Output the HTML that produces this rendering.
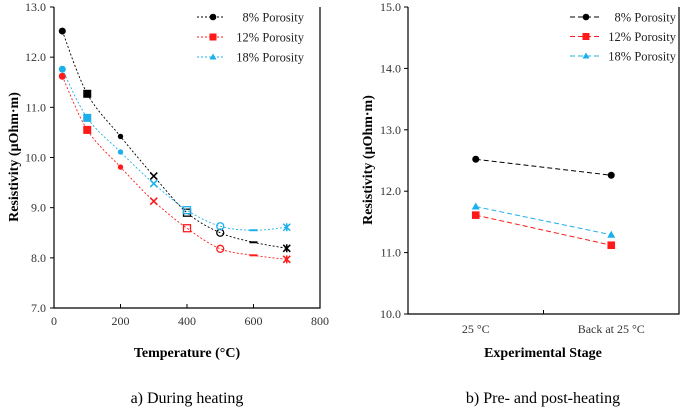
<!DOCTYPE html>
<html><head><meta charset="utf-8"><style>
html,body{margin:0;padding:0;background:#fff;}
svg{display:block;font-family:"Liberation Serif",serif;}
</style></head><body>
<svg id="c" width="685" height="409" viewBox="0 0 685 409"></svg>
<script>
const temps=[25,100,200,300,400,500,600,700];
const p8=[12.52,11.27,10.42,9.63,8.90,8.50,8.31,8.19];
const p12=[11.62,10.55,9.81,9.13,8.59,8.18,8.05,7.97];
const p18=[11.76,10.79,10.11,9.48,8.95,8.63,8.55,8.61];
const stages=["25 °C","Back at 25 °C"];
const s8=[12.52,12.26];
const s12=[11.61,11.12];
const s18=[11.75,11.29];
const xTicksL=[0,200,400,600,800];
const yTicksL=[7,8,9,10,11,12,13];
const yTicksR=[10,11,12,13,14,15];
const seriesNames=["8% Porosity","12% Porosity","18% Porosity"];

const NS="http://www.w3.org/2000/svg";
const svg=document.getElementById('c');
function el(t,a,p){const e=document.createElementNS(NS,t);for(const k in a)e.setAttribute(k,a[k]);(p||svg).appendChild(e);return e;}
function txt(s,a,p){const e=el('text',a,p);e.textContent=s;return e;}
const colors=["#000","#ff1a1a","#1cb0ea"];

// Left axes
const xL=v=>54+(v/800)*266;
const yL=v=>308-(v-7)/6*301;
const gL=el('g',{});
el('path',{d:`M54,7V308H320V7`,fill:'none',stroke:'#000','stroke-width':1.2},gL);
yTicksL.forEach(v=>{el('line',{x1:50,x2:54,y1:yL(v),y2:yL(v),stroke:'#000'},gL);
 const t=txt(v.toFixed(1),{x:46,y:yL(v)+4,'text-anchor':'end','font-size':12,fill:'#333'},gL);
 });
xTicksL.forEach(v=>{el('line',{x1:xL(v),x2:xL(v),y1:308,y2:304,stroke:'#000'},gL);
 const t=txt(String(v),{x:xL(v),y:325,'text-anchor':'middle','font-size':12,fill:'#333'},gL);
 });
function spline(pts){let d=`M${pts[0][0]},${pts[0][1]}`;for(let i=0;i<pts.length-1;i++){const p0=pts[i-1]||pts[i],p1=pts[i],p2=pts[i+1],p3=pts[i+2]||p2;
 d+=` C${p1[0]+(p2[0]-p0[0])/6},${p1[1]+(p2[1]-p0[1])/6} ${p2[0]-(p3[0]-p1[0])/6},${p2[1]-(p3[1]-p1[1])/6} ${p2[0]},${p2[1]}`;}return d;}
function marker(i,x,y,c,g){
 switch(i){
 case 0:el('circle',{cx:x,cy:y,r:3.5,fill:c},g);break;
 case 1:el('rect',{x:x-4,y:y-4,width:8,height:8,fill:c},g);break;
 case 2:el('circle',{cx:x,cy:y,r:2.7,fill:c},g);break;
 case 3:el('path',{d:`M${x-3.5},${y-3.5}L${x+3.5},${y+3.5}M${x+3.5},${y-3.5}L${x-3.5},${y+3.5}`,stroke:c,'stroke-width':1.6},g);break;
 case 4:el('rect',{x:x-3.5,y:y-3.5,width:7,height:7,fill:'none',stroke:c,'stroke-width':1.3},g);break;
 case 5:el('circle',{cx:x,cy:y,r:3.5,fill:'none',stroke:c,'stroke-width':1.3},g);break;
 case 6:el('line',{x1:x-4,x2:x+4,y1:y,y2:y,stroke:c,'stroke-width':2},g);break;
 default:el('path',{d:`M${x-3.5},${y-3.5}L${x+3.5},${y+3.5}M${x+3.5},${y-3.5}L${x-3.5},${y+3.5}M${x},${y-4}V${y+4}`,stroke:c,'stroke-width':1.5},g);}
}
[p8,p12,p18].forEach((arr,s)=>{
 const g=el('g',{},gL);
 const pts=arr.map((v,i)=>[xL(temps[i]),yL(v)]);
 el('path',{d:spline(pts),fill:'none',stroke:colors[s],'stroke-width':0.9,'stroke-dasharray':'2,2'},g);
 pts.forEach((p,i)=>marker(i,p[0],p[1],colors[s],g));
});
// left legend
seriesNames.forEach((n,i)=>{const y=17+i*20;const g=el('g',{},gL);
 el('line',{x1:197,x2:225,y1:y,y2:y,stroke:colors[i],'stroke-width':0.9,'stroke-dasharray':'2,2'},g);
 if(i==0)el('circle',{cx:213,cy:y,r:3.3,fill:colors[i]},g);else if(i==1)el('rect',{x:209.5,y:y-3.5,width:7,height:7,fill:colors[i]},g);else el('path',{d:`M213,${y-3.5}L216.5,${y+2.5}H209.5Z`,fill:colors[i]},g);
 txt(n,{x:304,y:y+4.5,'text-anchor':'end','font-size':12.5,fill:'#222'},g);});
const tx=txt("Temperature (°C)",{x:187,y:357,'text-anchor':'middle','font-size':14,'font-weight':'bold'},gL);
const ty=txt("Resistivity (µOhm·m)",{x:0,y:0,transform:'translate(18,157) rotate(-90)','text-anchor':'middle','font-size':14,'font-weight':'bold'},gL);
const ca=txt("a) During heating",{x:187,y:403,'text-anchor':'middle','font-size':16},gL);

// Right
const xR=i=>408+(i+0.5)*135.5;
const yR=v=>314-(v-10)/5*307;
const gR=el('g',{});
el('path',{d:`M408,7V314H679V7`,fill:'none',stroke:'#000','stroke-width':1.2},gR);
yTicksR.forEach(v=>{el('line',{x1:404,x2:408,y1:yR(v),y2:yR(v),stroke:'#000'},gR);
 const t=txt(v.toFixed(1),{x:401,y:yR(v)+4,'text-anchor':'end','font-size':12,fill:'#333'},gR);});
el('line',{x1:543.5,x2:543.5,y1:314,y2:310,stroke:'#000'},gR);
stages.forEach((s,i)=>{const t=txt(s,{x:xR(i),y:333,'text-anchor':'middle','font-size':12,fill:'#333'},gR);});
[s8,s12,s18].forEach((arr,s)=>{const g=el('g',{},gR);
 el('path',{d:arr.map((v,i)=>(i?'L':'M')+xR(i)+','+yR(v)).join(''),fill:'none',stroke:colors[s],'stroke-width':1,'stroke-dasharray':'5,3'},g);
 arr.forEach((v,i)=>{const x=xR(i),y=yR(v);
  if(s==0)el('circle',{cx:x,cy:y,r:3.5,fill:colors[s]},g);else if(s==1)el('rect',{x:x-3.8,y:y-3.8,width:7.6,height:7.6,fill:colors[s]},g);else el('path',{d:`M${x},${y-4}L${x+4},${y+3}H${x-4}Z`,fill:colors[s]},g);});});
seriesNames.forEach((n,i)=>{const y=17+i*19.5;const g=el('g',{},gR);
 el('line',{x1:570,x2:601,y1:y,y2:y,stroke:colors[i],'stroke-width':1,'stroke-dasharray':'5,3'},g);
 if(i==0)el('circle',{cx:586,cy:y,r:3.3,fill:colors[i]},g);else if(i==1)el('rect',{x:582.5,y:y-3.5,width:7,height:7,fill:colors[i]},g);else el('path',{d:`M586,${y-3.5}L589.5,${y+2.5}H582.5Z`,fill:colors[i]},g);
 txt(n,{x:676,y:y+4.5,'text-anchor':'end','font-size':12.5,fill:'#222'},g);});
const tx2=txt("Experimental Stage",{x:543,y:357,'text-anchor':'middle','font-size':14,'font-weight':'bold'},gR);
const ty2=txt("Resistivity (µOhm·m)",{x:0,y:0,transform:'translate(372,160) rotate(-90)','text-anchor':'middle','font-size':14,'font-weight':'bold'},gR);
const cb=txt("b) Pre- and post-heating",{x:543,y:403,'text-anchor':'middle','font-size':16},gR);
</script>
</body></html>
